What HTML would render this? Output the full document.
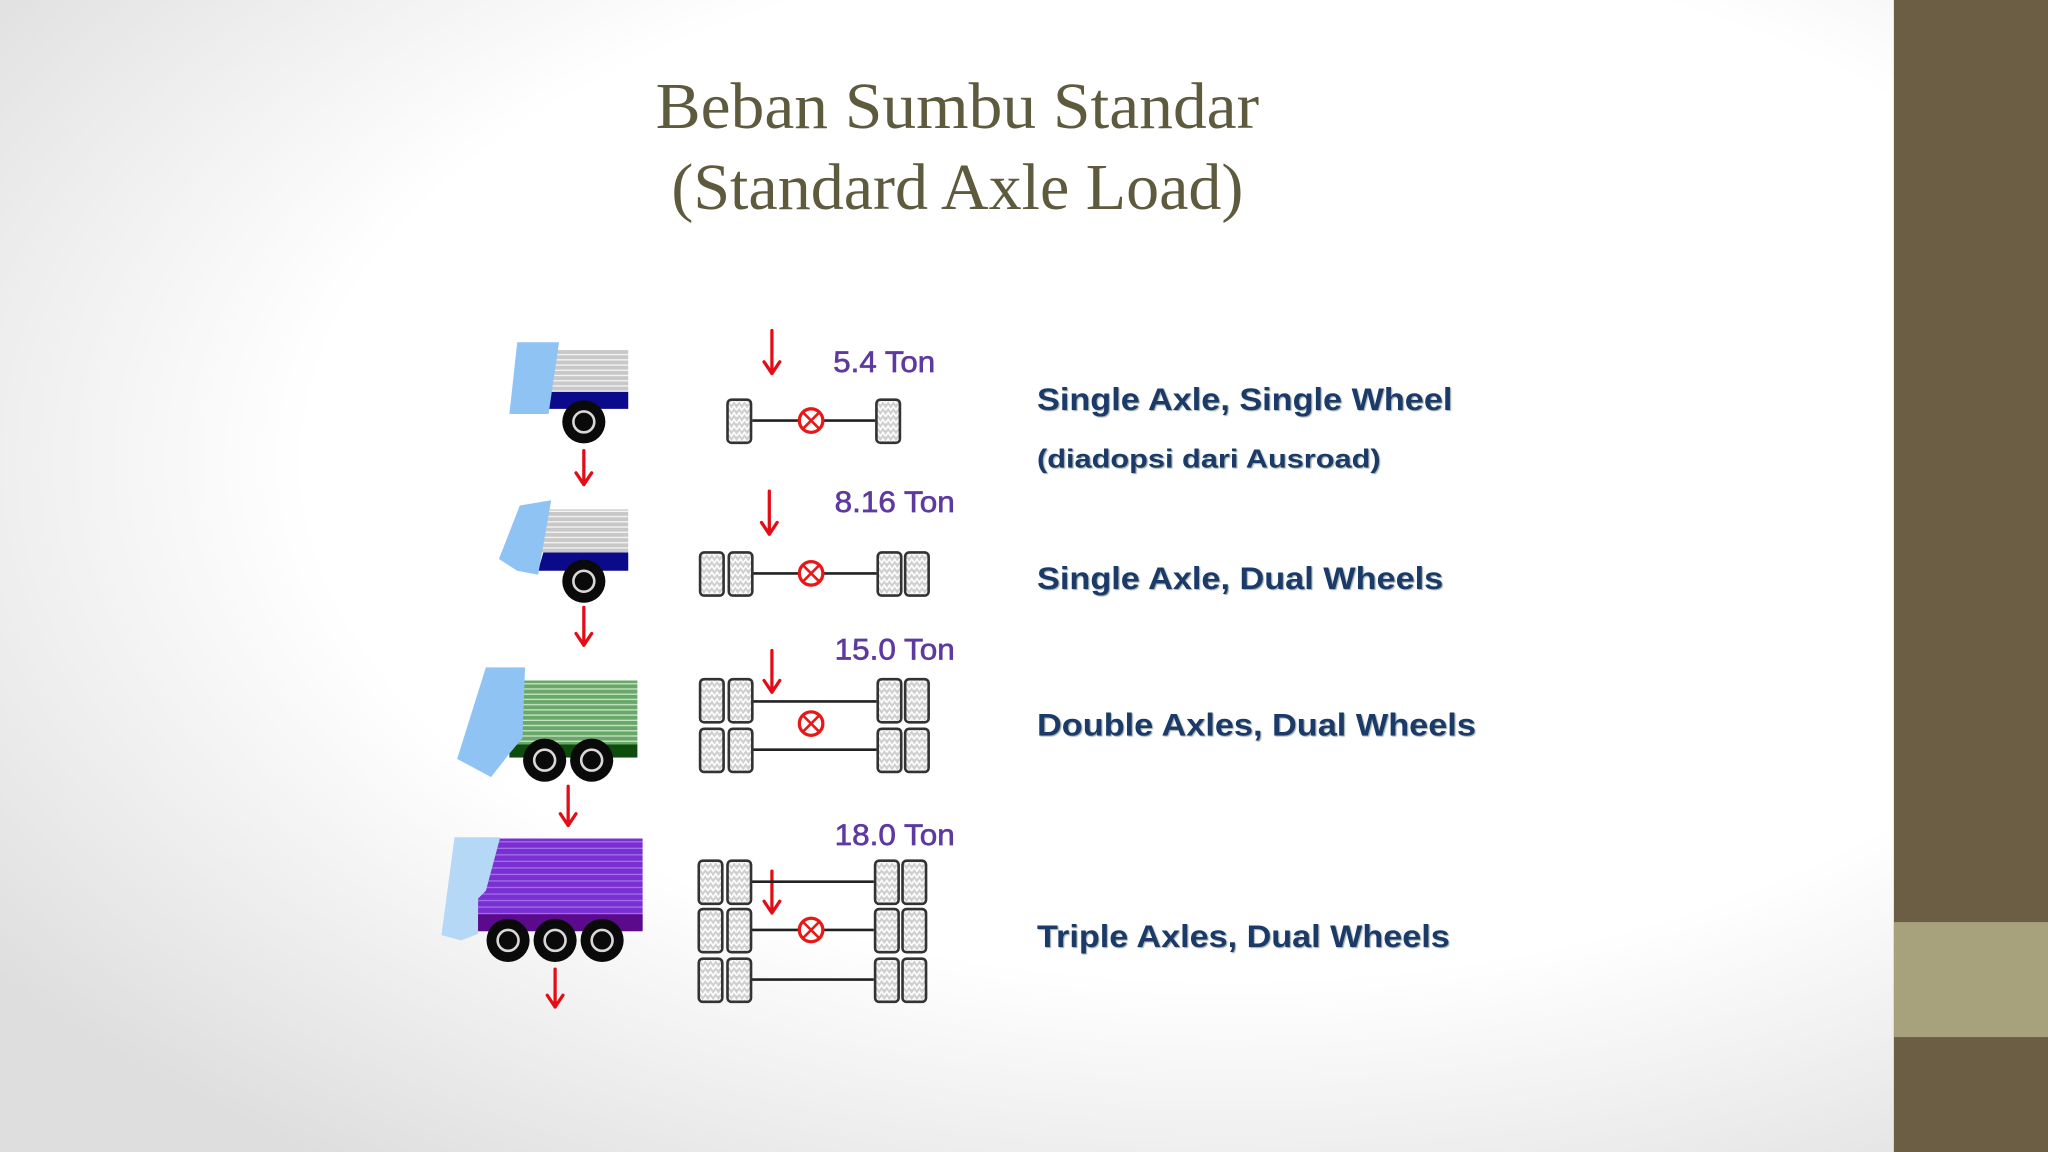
<!DOCTYPE html>
<html><head><meta charset="utf-8"><style>
html,body{margin:0;padding:0;width:2048px;height:1152px;overflow:hidden;background:#fff}
svg{display:block}
</style></head><body>
<svg width="2048" height="1152" viewBox="0 0 1568 882" xmlns="http://www.w3.org/2000/svg">
<defs>
<radialGradient id="bg" cx="0.6" cy="0.4" r="0.75">
<stop offset="0.6" stop-color="#ffffff"/><stop offset="1" stop-color="#dedede"/>
</radialGradient>
<pattern id="zz" width="8" height="5" patternUnits="userSpaceOnUse">
<rect width="8" height="5" fill="#cfcfcf"/>
<path d="M0 4 L2 1 L4 4 L6 1 L8 4" fill="none" stroke="#fff" stroke-width="1.2"/>
</pattern>
<pattern id="gs" width="4" height="4" patternUnits="userSpaceOnUse"><rect width="4" height="4" fill="#c8c8c8"/><rect y="3" width="4" height="1" fill="#f4f4f4"/></pattern>
<pattern id="gg" width="4" height="4" patternUnits="userSpaceOnUse"><rect width="4" height="4" fill="#6aa86a"/><rect y="3" width="4" height="1" fill="#c8e6c8"/></pattern>
<pattern id="pp" width="4" height="5" patternUnits="userSpaceOnUse"><rect width="4" height="5" fill="#7a2fd0"/><rect y="4" width="4" height="1" fill="#a070ec"/></pattern>
<symbol id="tire" viewBox="0 0 20 35" width="20" height="35" overflow="visible">
<rect x="1" y="1" width="18" height="33" rx="3" fill="url(#zz)" stroke="#333" stroke-width="2"/>
</symbol>
<g id="hub"><circle r="9" fill="#fff" stroke="#e81818" stroke-width="2.5"/><path d="M-6 -6 L6 6 M6 -6 L-6 6" stroke="#e81818" stroke-width="2"/></g>
<g id="wheel"><circle r="16.5" fill="#0a0a0a"/><circle r="8" fill="none" stroke="#d8d8d8" stroke-width="2"/></g>
</defs>
<rect width="1568" height="882" fill="url(#bg)"/>
<rect x="1450" y="0" width="118" height="882" fill="#6b5e45"/>
<rect x="1450" y="706" width="118" height="88" fill="#a8a27c"/>

<g font-family="'Liberation Serif',serif" fill="#5e5a3e" font-size="50" text-anchor="middle">
<text x="733" y="98" textLength="462" lengthAdjust="spacingAndGlyphs">Beban Sumbu Standar</text>
<text x="733" y="160" textLength="438" lengthAdjust="spacingAndGlyphs">(Standard Axle Load)</text>
</g>

<g stroke="#e30d17" stroke-width="2.5" fill="none" stroke-linecap="round" stroke-linejoin="round">
<path d="M447 345 V371 M441 362 L447 371 L453 362"/>
<path d="M447 465 V494 M441 485 L447 494 L453 485"/>
<path d="M435 602 V632 M429 623 L435 632 L441 623"/>
<path d="M425 742 V771 M419 762 L425 771 L431 762"/>
<path d="M591 253 V286 M585 277 L591 286 L597 277"/>
<path d="M589 376 V409 M583 400 L589 409 L595 400"/>
<path d="M591 498 V530 M585 521 L591 530 L597 521"/>
<path d="M591 667 V699 M585 690 L591 699 L597 690"/>
</g>

<!-- truck 1 -->
<rect x="414" y="268" width="67" height="33" fill="url(#gs)"/>
<path d="M418 300 L481 300 L481 313 L412 313 Z" fill="#0a0a8a"/>
<path d="M396 262 L428 262 L420 317 L390 317 Z" fill="#8fc3f3"/>
<use href="#wheel" x="447" y="323"/>
<!-- truck 2 -->
<rect x="414" y="390" width="67" height="33" fill="url(#gs)"/>
<path d="M416 423 L481 423 L481 437 L412 437 Z" fill="#0a0a8a"/>
<path d="M398 387 L422 383 L412 440 L396 437 L382 428 Z" fill="#8fc3f3"/>
<use href="#wheel" x="447" y="445"/>
<!-- truck 3 -->
<rect x="395" y="521" width="93" height="50" fill="url(#gg)"/>
<rect x="390" y="570" width="98" height="10" fill="#0e4c0e"/>
<path d="M372 511 L402 511 L400 565 L390 577 L376 595 L350 581 Z" fill="#8fc3f3"/>
<use href="#wheel" x="417" y="582"/><use href="#wheel" x="453" y="582"/>
<!-- truck 4 -->
<path d="M380 642 L492 642 L492 712 L366 712 L366 688 L372 680 Z" fill="url(#pp)"/>
<rect x="366" y="700" width="126" height="13" fill="#5a0a8a"/>
<path d="M348 641 L383 641 L372 682 L366 688 L366 715 L353 720 L338 716 Z" fill="#b5d8f6"/>
<use href="#wheel" x="389" y="720"/><use href="#wheel" x="425" y="720"/><use href="#wheel" x="461" y="720"/>

<!-- axles -->
<g stroke="#222" stroke-width="2">
<line x1="576" y1="322" x2="670" y2="322"/>
<line x1="576" y1="439" x2="671" y2="439"/>
<line x1="576" y1="537" x2="671" y2="537"/>
<line x1="576" y1="574" x2="671" y2="574"/>
<line x1="575" y1="675" x2="669" y2="675"/>
<line x1="575" y1="712" x2="669" y2="712"/>
<line x1="575" y1="750" x2="669" y2="750"/>
</g>
<use href="#tire" x="556" y="305"/><use href="#tire" x="670" y="305"/>
<use href="#tire" x="535" y="422"/><use href="#tire" x="557" y="422"/><use href="#tire" x="671" y="422"/><use href="#tire" x="692" y="422"/>
<use href="#tire" x="535" y="519"/><use href="#tire" x="557" y="519"/><use href="#tire" x="671" y="519"/><use href="#tire" x="692" y="519"/>
<use href="#tire" x="535" y="557"/><use href="#tire" x="557" y="557"/><use href="#tire" x="671" y="557"/><use href="#tire" x="692" y="557"/>
<use href="#tire" x="534" y="658"/><use href="#tire" x="556" y="658"/><use href="#tire" x="669" y="658"/><use href="#tire" x="690" y="658"/>
<use href="#tire" x="534" y="695"/><use href="#tire" x="556" y="695"/><use href="#tire" x="669" y="695"/><use href="#tire" x="690" y="695"/>
<use href="#tire" x="534" y="733"/><use href="#tire" x="556" y="733"/><use href="#tire" x="669" y="733"/><use href="#tire" x="690" y="733"/>
<use href="#hub" x="621" y="322"/><use href="#hub" x="621" y="439"/><use href="#hub" x="621" y="554"/><use href="#hub" x="621" y="712"/>

<g font-family="'Liberation Sans',sans-serif" fill="#5e3aa0" font-size="23" stroke="#5e3aa0" stroke-width="0.5">
<text x="638" y="285" textLength="78" lengthAdjust="spacingAndGlyphs">5.4 Ton</text>
<text x="639" y="392" textLength="92" lengthAdjust="spacingAndGlyphs">8.16 Ton</text>
<text x="639" y="505" textLength="92" lengthAdjust="spacingAndGlyphs">15.0 Ton</text>
<text x="639" y="647" textLength="92" lengthAdjust="spacingAndGlyphs">18.0 Ton</text>
</g>
<g font-family="'Liberation Sans',sans-serif" font-weight="bold" fill="#1b3a68" font-size="24" style="text-shadow:1px 1px 1px #9aa">
<text x="794" y="314" textLength="318" lengthAdjust="spacingAndGlyphs">Single Axle, Single Wheel</text>
<text x="794" y="358" font-size="20" textLength="263" lengthAdjust="spacingAndGlyphs">(diadopsi dari Ausroad)</text>
<text x="794" y="451" textLength="311" lengthAdjust="spacingAndGlyphs">Single Axle, Dual Wheels</text>
<text x="794" y="563" textLength="336" lengthAdjust="spacingAndGlyphs">Double Axles, Dual Wheels</text>
<text x="794" y="725" textLength="316" lengthAdjust="spacingAndGlyphs">Triple Axles, Dual Wheels</text>
</g>
</svg>
</body></html>
